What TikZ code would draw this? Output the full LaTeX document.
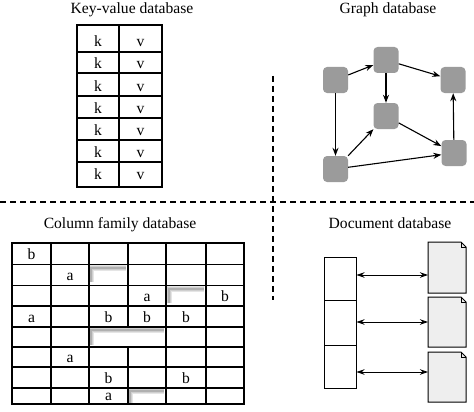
\documentclass[tikz,border=0pt]{standalone}
\usepackage{fontspec}
\setmainfont{Liberation Serif}
\usetikzlibrary{arrows.meta}
\definecolor{nodegray}{RGB}{155,155,155}
\definecolor{docfill}{RGB}{238,238,238}
\tikzset{
  title/.style={anchor=base, font=\fontsize{15.6}{18}\selectfont, inner sep=0pt},
  cell/.style={anchor=base, font=\fontsize{15.6}{18}\selectfont, inner sep=0pt},
  gnode/.style={draw=none, fill=nodegray, rounded corners=4pt, minimum width=25pt, minimum height=26pt, inner sep=0pt},
  garrow/.style={line width=1.1pt, -{Stealth[length=8pt,width=6pt]}},
  darrow/.style={line width=0.9pt, {Stealth[length=8pt,width=5.5pt]}-{Stealth[length=8pt,width=5.5pt]}},
  grid/.style={line width=1.1pt},
  divider/.style={line width=1.5pt, dash pattern=on 6pt off 4pt},
  shadowwide/.style={line width=6pt, color=gray!20, line cap=butt},
  shadowmid/.style={line width=4pt, color=gray!38, line cap=butt},
  shadownarrow/.style={line width=2pt, color=gray!62, line cap=butt},
  docshape/.style={draw, line width=1pt, fill=docfill},
}
\newcommand{\shadowL}[1]{%
  \draw[shadowwide] #1;
  \draw[shadowmid] #1;
  \draw[shadownarrow] #1;
}
\begin{document}
\begin{tikzpicture}[x=1pt,y=-1pt]
\useasboundingbox (0,0) rectangle (474,412);

% dividers
\coordinate (hl) at (0,202);
\coordinate (hr) at (474,202);
\coordinate (vt) at (273,76);
\coordinate (vb) at (273,300);
\draw[divider] (hl) -- (hr);
\draw[divider] (vt) -- (vb);

% ---------- Key-value ----------
\node[title] (kvt) at (132,14) {Key-value database};
\draw[grid] (77,25) rectangle (162,187);
\draw[grid] (119,25) -- (119,187);
\foreach \y in {52,73,96,118,140,162} \draw[grid] (77,\y) -- (162,\y);
\foreach \i in {0,...,6} {
  \node[cell] (k\i) at (98,{46.7+22.2*\i}) {k};
  \node[cell] (v\i) at (140.5,{46.7+22.2*\i}) {v};
}

% ---------- Graph ----------
\node[title] (gt) at (388,14) {Graph database};
\node[gnode] (A) at (335.5,80) {};
\node[gnode] (B) at (386,60) {};
\node[gnode] (C) at (453,80) {};
\node[gnode] (D) at (386,116) {};
\node[gnode] (E) at (454,153) {};
\node[gnode] (F) at (335.5,169) {};
\draw[garrow] (A) -- (B);
\draw[garrow] (B) -- (C);
\draw[garrow] (B) -- (D);
\draw[garrow] (A) -- (F);
\draw[garrow] (F) -- (D);
\draw[garrow] (D) -- (E);
\draw[garrow] (F) -- (E);
\draw[garrow] (E) -- (C);

% ---------- Column family ----------
\node[title] (cft) at (120,228) {Column family database};
% shadows
\shadowL{(91,282) -- (91,268) -- (126,268)}
\shadowL{(169,303) -- (169,289) -- (204,289)}
\shadowL{(91,345) -- (91,330) -- (164,330)}
\shadowL{(130,403) -- (130,391) -- (164,391)}
% grid
\draw[grid] (12,243) rectangle (244,404);
\foreach \y in {264.5,285.5,306,327,347,367,388} \draw[grid] (12,\y) -- (244,\y);
\foreach \x in {51,89,166,206} \draw[grid] (\x,243) -- (\x,404);
\draw[grid] (128,243) -- (128,327);
\draw[grid] (128,347) -- (128,404);
% letters
\node[cell] (c11) at (31.5,259.5) {b};
\node[cell] (c22) at (70,280.5) {a};
\node[cell] (c34) at (147,301) {a};
\node[cell] (c36) at (225,301) {b};
\node[cell] (c41) at (31.5,322) {a};
\node[cell] (c43) at (108.5,322) {b};
\node[cell] (c44) at (147,322) {b};
\node[cell] (c45) at (186,322) {b};
\node[cell] (c62) at (70,362.5) {a};
\node[cell] (c73) at (108.5,383) {b};
\node[cell] (c75) at (186,383) {b};
\node[cell] (c83) at (108.5,400.5) {a};

% ---------- Document ----------
\node[title] (dt) at (390,228) {Document database};
\node[draw, line width=1pt, minimum width=32pt, minimum height=43pt, inner sep=0pt] (s1) at (340,278.5) {};
\node[draw, line width=1pt, minimum width=32pt, minimum height=45pt, inner sep=0pt] (s2) at (340,322.5) {};
\node[draw, line width=1pt, minimum width=32pt, minimum height=43pt, inner sep=0pt] (s3) at (340,366.5) {};
\foreach \n/\t/\b in {1/242/293, 2/297/347, 3/352/402} {
  \draw[docshape] (428,\t) -- (461,\t) -- (466,{\t+5}) -- (466,\b) -- (428,\b) -- cycle;
  \draw[line width=0.6pt] (461,\t) -- (461,{\t+5}) -- (466,{\t+5});
}
\coordinate (e1) at (428,275);
\coordinate (e2) at (428,322);
\coordinate (e3) at (428,372);
\draw[darrow] (s1.east |- e1) -- (e1);
\draw[darrow] (s2.east |- e2) -- (e2);
\draw[darrow] (s3.east |- e3) -- (e3);
\end{tikzpicture}
\end{document}
